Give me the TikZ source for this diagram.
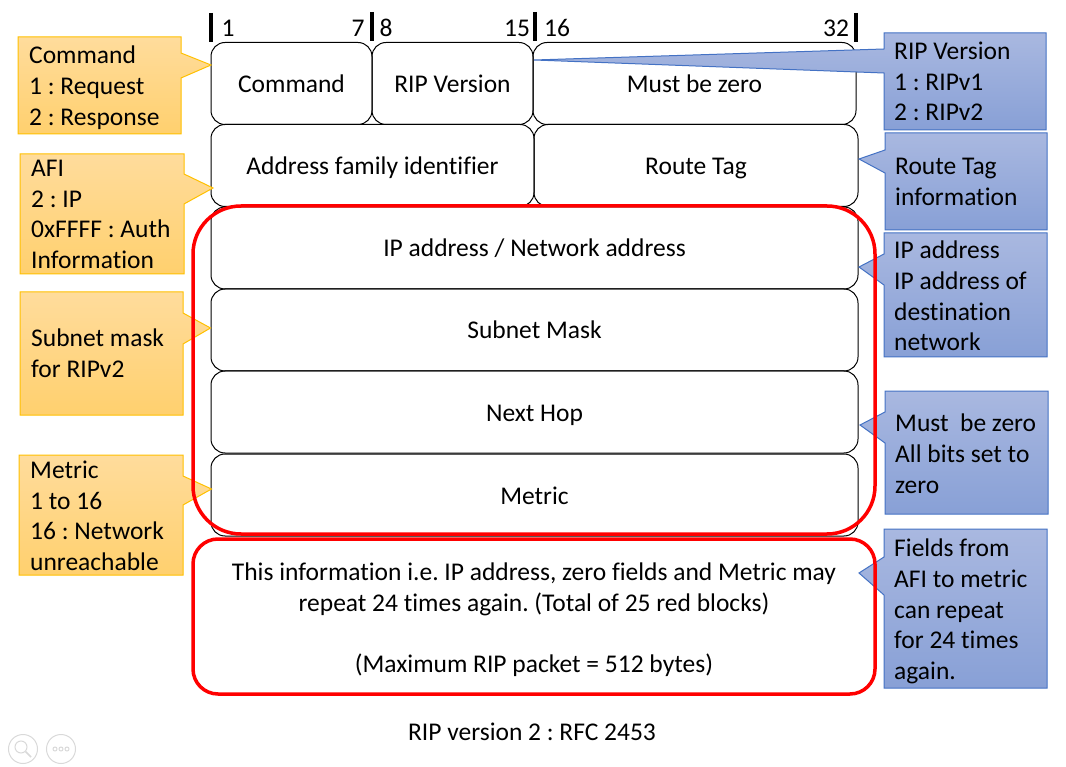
\documentclass[tikz,border=0pt]{standalone}
\usepackage{fontspec}
\setmainfont[Ligatures=NoCommon]{Carlito}
\frenchspacing
\definecolor{boxorangeline}{HTML}{FFC000}
\definecolor{boxorangetop}{HTML}{FFDC9C}
\definecolor{boxorangebot}{HTML}{FFD06E}
\definecolor{boxbluetop}{HTML}{A9B8E0}
\definecolor{boxbluebot}{HTML}{88A0D6}
\definecolor{boxblueline}{HTML}{4472C4}
\tikzstyle{field}=[draw,black,line width=1pt,rounded corners=14pt,inner sep=0pt,text height=18pt,text depth=0pt]
\tikzstyle{redbox}=[draw,red,line width=3.5pt,inner sep=0pt,text=black,align=center,font=\fontsize{25.5}{30.8}\selectfont]
\tikzstyle{tick}=[line width=4pt,black]
\tikzstyle{bitnum}=[inner sep=0pt]
\tikzstyle{orangecall}=[draw=boxorangeline,line width=1pt,top color=boxorangetop,bottom color=boxorangebot]
\tikzstyle{bluecall}=[draw=boxblueline,line width=1pt,top color=boxbluetop,bottom color=boxbluebot]
\tikzstyle{calltext}=[anchor=north west,inner sep=0pt,align=left,font=\fontsize{25.5}{30.6}\selectfont]
\tikzstyle{icon}=[draw=black!15,line width=1pt,circle,minimum size=29pt,inner sep=0pt]
\begin{document}
\begin{tikzpicture}[x=1pt,y=-1pt,every node/.append style={font=\fontsize{25.5}{30}\selectfont}]
    \useasboundingbox (0,0) rectangle (1066,767);
    % bit positions
    \node (n1)[bitnum] at (228,28) {1};
    \node (n7)[bitnum] at (358,28) {7};
    \node (n8)[bitnum] at (386,28) {8};
    \node (n15)[bitnum] at (517,28) {15};
    \node (n16)[bitnum] at (557,28) {16};
    \node (n32)[bitnum] at (836,28) {32};
    \draw[tick] (211,13) -- (211,42);
    \draw[tick] (372,12) -- (372,41);
    \draw[tick] (535,12) -- (535,41);
    \draw[tick] (856,13) -- (856,42);
    % packet fields
    \node (cmd)[field,minimum width=161pt,minimum height=82pt] at (291.5,83.5) {Command};
    \node (ver)[field,minimum width=161pt,minimum height=82pt] at (452.5,83.5) {RIP Version};
    \node (zero)[field,minimum width=323pt,minimum height=82pt] at (694.5,83.5) {Must be zero};
    \node (afi)[field,minimum width=323pt,minimum height=82pt] at (372.5,165.5) {Address family identifier};
    \node (tag)[field,minimum width=324pt,minimum height=82pt] at (696,165.5) {Route Tag};
    \node (addr)[field,minimum width=647pt,minimum height=82pt] at (534.5,248) {IP address / Network address};
    \node (mask)[field,minimum width=647pt,minimum height=82pt] at (534.5,330) {Subnet Mask};
    \node (hop)[field,minimum width=647pt,minimum height=82pt] at (534.5,412) {Next Hop};
    \node (metric)[field,minimum width=647pt,minimum height=82pt] at (534.5,495) {Metric};
    % left callouts
    \draw[orangecall] (18,37) -- (181,37) -- (181,53) -- (211,65) -- (181,78) -- (181,134) -- (18,134) -- cycle;
    \node (cmdinfo)[calltext] at (29,46) {Command\\1 : Request\\2 : Response};
    \draw[orangecall] (20,154) -- (184,154) -- (184,174) -- (213,188) -- (184,204) -- (184,274) -- (20,274) -- cycle;
    \node (afiinfo)[calltext] at (31,160) {AFI\\2 : IP\\0xFFFF : Auth\\Information};
    \draw[orangecall] (20,292) -- (183,292) -- (183,313) -- (210.5,328) -- (183,344) -- (183,415) -- (20,415) -- cycle;
    \node (maskinfo)[calltext] at (31,329) {Subnet mask\\for RIPv2};
    \draw[orangecall] (19,455) -- (183,455) -- (183,476) -- (211.5,489) -- (183,505) -- (183,575) -- (19,575) -- cycle;
    \node (metricinfo)[calltext] at (30,461) {Metric\\1 to 16\\16 : Network\\unreachable};
    % right callouts
    \draw[bluecall] (884,33) -- (1046,33) -- (1046,130) -- (884,130) -- (884,73) -- (534,60) -- (884,49) -- cycle;
    \node (verinfo)[calltext] at (894,42) {RIP Version\\1 : RIPv1\\2 : RIPv2};
    \draw[bluecall] (885,133) -- (1047,133) -- (1047,230) -- (885,230) -- (885,173) -- (859,159) -- (885,150) -- cycle;
    \node (taginfo)[calltext] at (895,158) {Route Tag\\information};
    \draw[bluecall] (884,233) -- (1047,233) -- (1047,357) -- (884,357) -- (884,285) -- (859,267) -- (884,254) -- cycle;
    \node (addrinfo)[calltext] at (894,241) {IP address\\IP address of\\destination\\network};
    \draw[bluecall] (885,391) -- (1048,391) -- (1048,514) -- (885,514) -- (885,443) -- (860,425) -- (885,412) -- cycle;
    \node (zeroinfo)[calltext] at (895,414) {Must\ \ be zero\\All bits set to\\zero};
    \draw[bluecall] (884,529) -- (1047,529) -- (1047,688) -- (884,688) -- (884,595) -- (859,573) -- (884,557) -- cycle;
    \node (repinfo)[calltext] at (894,539) {Fields from\\AFI to metric\\can repeat\\for 24 times\\again.};
    % red groups
    \node (group)[redbox,rounded corners=48pt,minimum width=682pt,minimum height=328pt] at (534,370) {};
    \node (again)[redbox,rounded corners=25pt,minimum width=682pt,minimum height=155pt] at (534,616.5) {\rule{0pt}{24pt}This information i.e. IP address, zero fields and Metric may\\repeat 24 times again. (Total of 25 red blocks)\\[30.8pt](Maximum RIP packet = 512 bytes)};
    \node (title) at (532,732) {RIP version 2 : RFC 2453};
    % viewer buttons
    \node (zoombtn)[icon] at (23,749) {};
    \draw[black!15,line width=1pt] (21,747) circle (6pt);
    \draw[black!15,line width=1.5pt] (25.5,751.5) -- (31,757);
    \node (morebtn)[icon] at (61,749) {};
    \foreach \i in {55,61,67}
        \draw[black!15,line width=1pt] (\i,749) circle (2pt);
\end{tikzpicture}
\end{document}
